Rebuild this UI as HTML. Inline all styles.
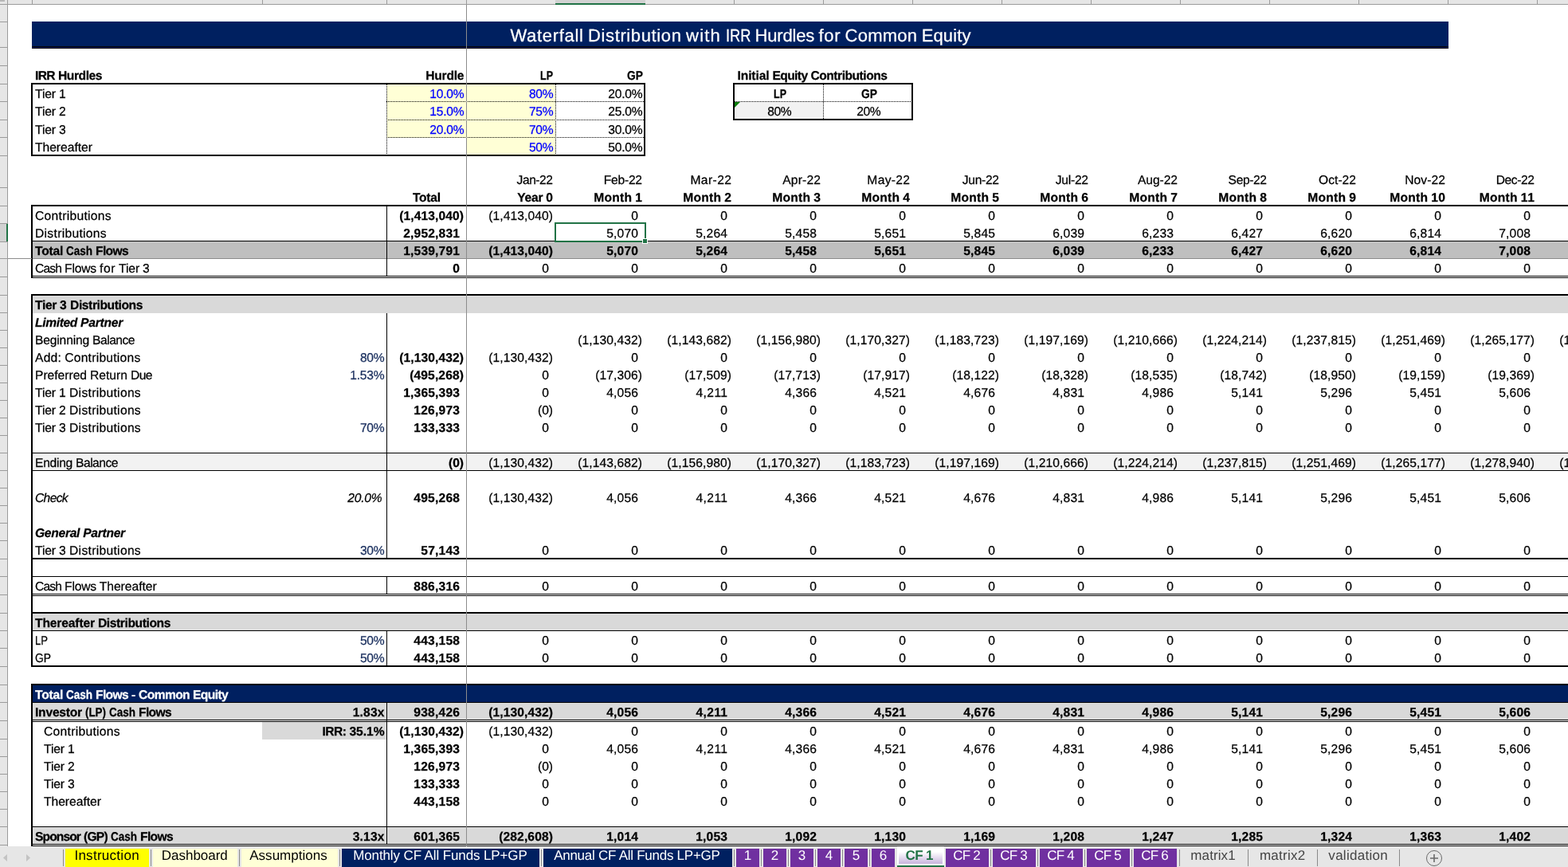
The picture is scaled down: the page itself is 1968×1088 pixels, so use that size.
<!DOCTYPE html>
<html lang="en"><head><meta charset="utf-8"><title>Waterfall Distribution with IRR Hurdles for Common Equity</title>
<style>
html,body{margin:0;padding:0;background:#fff;}
body{width:1968px;height:1088px;position:relative;overflow:hidden;text-rendering:geometricPrecision;font-family:"Liberation Sans",sans-serif;font-size:15.6px;color:#000;}
.b{position:absolute;}
.t{position:absolute;white-space:nowrap;line-height:21px;height:21px;-webkit-text-stroke:0.25px;}
.sx{display:inline-block;transform-origin:0 0;}
.bd{font-weight:bold;}
.it{font-style:italic;}
.bl{color:#0000ff;}
.nv{color:#1a2f5e;}
.wh{color:#fff;}
.tb{position:absolute;top:1062px;height:24px;line-height:24px;white-space:nowrap;font-size:17px;}
</style></head>
<body>
<div class="b" style="left:40px;top:27px;width:1778px;height:34px;background:#002060;"></div>
<div class="b" style="left:486px;top:106px;width:211px;height:67px;background:#ffffd6;"></div>
<div class="b" style="left:586px;top:173px;width:111px;height:21px;background:#ffffd6;"></div>
<div class="b" style="left:922px;top:128px;width:111px;height:21px;background:#f2f2f2;"></div>
<div class="b" style="left:41px;top:303px;width:1927px;height:21px;background:#bfbfbf;"></div>
<div class="b" style="left:41px;top:371px;width:1927px;height:22px;background:#d9d9d9;"></div>
<div class="b" style="left:41px;top:569px;width:1927px;height:21px;background:#f2f2f2;"></div>
<div class="b" style="left:41px;top:770px;width:1927px;height:21px;background:#d9d9d9;"></div>
<div class="b" style="left:41px;top:860px;width:1927px;height:21px;background:#002060;"></div>
<div class="b" style="left:41px;top:882px;width:1927px;height:21px;background:#d9d9d9;"></div>
<div class="b" style="left:329px;top:906px;width:156px;height:22px;background:#d9d9d9;"></div>
<div class="b" style="left:41px;top:1038px;width:1927px;height:21px;background:#d9d9d9;"></div>
<div class="b" style="left:40px;top:58px;width:1778px;height:1px;background:#000;"></div>
<div class="b" style="left:40px;top:60px;width:1778px;height:1px;background:#000;"></div>
<div class="b" style="left:39px;top:104px;width:771px;height:2px;background:#000;"></div>
<div class="b" style="left:39px;top:194px;width:771px;height:2px;background:#000;"></div>
<div class="b" style="left:39px;top:104px;width:2px;height:92px;background:#000;"></div>
<div class="b" style="left:808px;top:104px;width:2px;height:92px;background:#000;"></div>
<div class="b" style="left:485px;top:127px;width:324px;height:1px;background:repeating-linear-gradient(90deg,#000 0 1px,transparent 1px 2px)"></div>
<div class="b" style="left:485px;top:150px;width:324px;height:1px;background:repeating-linear-gradient(90deg,#000 0 1px,transparent 1px 2px)"></div>
<div class="b" style="left:485px;top:172px;width:324px;height:1px;background:repeating-linear-gradient(90deg,#000 0 1px,transparent 1px 2px)"></div>
<div class="b" style="left:485px;top:106px;width:1px;height:88px;background:repeating-linear-gradient(180deg,#000 0 1px,transparent 1px 2px)"></div>
<div class="b" style="left:697px;top:106px;width:1px;height:88px;background:repeating-linear-gradient(180deg,#000 0 1px,transparent 1px 2px)"></div>
<div class="b" style="left:920px;top:104px;width:226px;height:2px;background:#000;"></div>
<div class="b" style="left:920px;top:149px;width:226px;height:2px;background:#000;"></div>
<div class="b" style="left:920px;top:104px;width:2px;height:47px;background:#000;"></div>
<div class="b" style="left:1144px;top:104px;width:2px;height:47px;background:#000;"></div>
<div class="b" style="left:922px;top:127px;width:222px;height:1px;background:repeating-linear-gradient(90deg,#000 0 1px,transparent 1px 2px)"></div>
<div class="b" style="left:1033px;top:106px;width:1px;height:43px;background:repeating-linear-gradient(180deg,#000 0 1px,transparent 1px 2px)"></div>
<div class="b" style="left:39px;top:257px;width:1929px;height:2px;background:#000;"></div>
<div class="b" style="left:41px;top:302px;width:1927px;height:1px;background:#000;"></div>
<div class="b" style="left:41px;top:324px;width:1927px;height:1px;background:#8c8c8c;"></div>
<div class="b" style="left:39px;top:346px;width:1929px;height:1px;background:#000;"></div>
<div class="b" style="left:39px;top:348px;width:1929px;height:1px;background:#000;"></div>
<div class="b" style="left:39px;top:257px;width:2px;height:92px;background:#000;"></div>
<div class="b" style="left:485px;top:259px;width:1px;height:87px;background:#000;"></div>
<div class="b" style="left:39px;top:369px;width:1929px;height:2px;background:#000;"></div>
<div class="b" style="left:39px;top:369px;width:2px;height:468px;background:#000;"></div>
<div class="b" style="left:485px;top:393px;width:1px;height:307px;background:#000;"></div>
<div class="b" style="left:41px;top:568px;width:1927px;height:1px;background:#000;"></div>
<div class="b" style="left:41px;top:590px;width:1927px;height:1px;background:#000;"></div>
<div class="b" style="left:41px;top:700px;width:1927px;height:2px;background:#000;"></div>
<div class="b" style="left:41px;top:723px;width:1927px;height:1px;background:#000;"></div>
<div class="b" style="left:41px;top:745px;width:1927px;height:1px;background:#000;"></div>
<div class="b" style="left:41px;top:747px;width:1927px;height:1px;background:#000;"></div>
<div class="b" style="left:485px;top:723px;width:1px;height:23px;background:#000;"></div>
<div class="b" style="left:41px;top:768px;width:1927px;height:2px;background:#000;"></div>
<div class="b" style="left:41px;top:791px;width:1927px;height:1px;background:#000;"></div>
<div class="b" style="left:485px;top:791px;width:1px;height:44px;background:#000;"></div>
<div class="b" style="left:39px;top:835px;width:1929px;height:2px;background:#000;"></div>
<div class="b" style="left:39px;top:858px;width:1929px;height:2px;background:#000;"></div>
<div class="b" style="left:39px;top:858px;width:2px;height:204px;background:#000;"></div>
<div class="b" style="left:41px;top:881px;width:1927px;height:1px;background:#000;"></div>
<div class="b" style="left:41px;top:903px;width:1927px;height:1px;background:#000;"></div>
<div class="b" style="left:41px;top:905px;width:1927px;height:1px;background:#000;"></div>
<div class="b" style="left:485px;top:882px;width:1px;height:178px;background:#000;"></div>
<div class="b" style="left:41px;top:1037px;width:1927px;height:1px;background:#000;"></div>
<div class="b" style="left:39px;top:1059px;width:1929px;height:1px;background:#000;"></div>
<div class="b" style="left:39px;top:1061px;width:1929px;height:1px;background:#000;"></div>
<div class="t wh" style="top:30px;left:640.5px;font-size:22px;line-height:29px;height:29px;word-spacing:-0.61px;"><span style="letter-spacing:0.67px">Waterfall</span> <span style="letter-spacing:0.62px">Distribution</span> <span style="letter-spacing:1.22px">with</span> <span class="sx" style="transform:scaleX(0.831);margin-right:-6.4px">IRR</span> <span style="letter-spacing:-0.19px">Hurdles</span> <span style="letter-spacing:0.61px">for</span> <span style="letter-spacing:0.21px">Common</span> <span style="letter-spacing:0.14px">Equity</span></div>
<div class="t bd" style="top:85px;left:44px;word-spacing:-0.33px;"><span style="letter-spacing:-0.62px">IRR</span> <span style="letter-spacing:-0.44px">Hurdles</span></div>
<div class="t bd" style="top:85px;right:1385.73px;letter-spacing:-0.23px;">Hurdle</div>
<div class="t bd" style="top:85px;right:1273.5px;"><span class="sx" style="transform:scaleX(0.803);margin-right:-3.93px">LP</span></div>
<div class="t bd" style="top:85px;right:1161.5px;"><span class="sx" style="transform:scaleX(0.887);margin-right:-2.55px">GP</span></div>
<div class="t bd" style="top:85px;left:925.5px;word-spacing:-0.33px;"><span style="letter-spacing:-0.11px">Initial</span> <span style="letter-spacing:-0.61px">Equity</span> <span style="letter-spacing:-0.48px">Contributions</span></div>
<div class="t" style="top:108px;left:44px;word-spacing:-0.33px;"><span style="letter-spacing:-0.07px">Tier</span> <span style="letter-spacing:0.32px">1</span></div>
<div class="t bl" style="top:108px;right:1385.75px;letter-spacing:-0.25px;">10.0%</div>
<div class="t bl" style="top:108px;right:1273.91px;letter-spacing:-0.41px;">80%</div>
<div class="t" style="top:108px;right:1161.75px;letter-spacing:-0.25px;">20.0%</div>
<div class="t" style="top:130px;left:44px;word-spacing:-0.33px;"><span style="letter-spacing:-0.07px">Tier</span> <span style="letter-spacing:0.32px">2</span></div>
<div class="t bl" style="top:130px;right:1385.75px;letter-spacing:-0.25px;">15.0%</div>
<div class="t bl" style="top:130px;right:1273.91px;letter-spacing:-0.41px;">75%</div>
<div class="t" style="top:130px;right:1161.75px;letter-spacing:-0.25px;">25.0%</div>
<div class="t" style="top:153px;left:44px;word-spacing:-0.33px;"><span style="letter-spacing:-0.07px">Tier</span> <span style="letter-spacing:0.32px">3</span></div>
<div class="t bl" style="top:153px;right:1385.75px;letter-spacing:-0.25px;">20.0%</div>
<div class="t bl" style="top:153px;right:1273.91px;letter-spacing:-0.41px;">70%</div>
<div class="t" style="top:153px;right:1161.75px;letter-spacing:-0.25px;">30.0%</div>
<div class="t" style="top:175px;left:44px;">Thereafter</div>
<div class="t bl" style="top:175px;right:1273.91px;letter-spacing:-0.41px;">50%</div>
<div class="t" style="top:175px;right:1161.75px;letter-spacing:-0.25px;">50.0%</div>
<div class="t bd" style="top:108px;left:970.5px;"><span class="sx" style="transform:scaleX(0.803);margin-right:-3.93px">LP</span></div>
<div class="t bd" style="top:108px;left:1080.5px;"><span class="sx" style="transform:scaleX(0.887);margin-right:-2.55px">GP</span></div>
<div class="t" style="top:130px;left:963.3px;letter-spacing:-0.41px;">80%</div>
<div class="t" style="top:130px;left:1075.3px;letter-spacing:-0.41px;">20%</div>
<div class="t" style="top:216px;right:1274.45px;letter-spacing:-0.45px;">Jan-22</div>
<div class="t bd" style="top:238px;right:1273.68px;word-spacing:-0.33px;"><span style="letter-spacing:-0.24px">Year</span> <span style="letter-spacing:0.32px">0</span></div>
<div class="t" style="top:216px;right:1162.24px;letter-spacing:-0.24px;">Feb-22</div>
<div class="t bd" style="top:238px;right:1161.68px;word-spacing:-0.33px;"><span style="letter-spacing:0.24px">Month</span> <span style="letter-spacing:0.32px">1</span></div>
<div class="t" style="top:216px;right:1049.57px;letter-spacing:0.43px;">Mar-22</div>
<div class="t bd" style="top:238px;right:1049.68px;word-spacing:-0.33px;"><span style="letter-spacing:0.24px">Month</span> <span style="letter-spacing:0.32px">2</span></div>
<div class="t" style="top:216px;right:937.8px;letter-spacing:0.2px;">Apr-22</div>
<div class="t bd" style="top:238px;right:937.68px;word-spacing:-0.33px;"><span style="letter-spacing:0.24px">Month</span> <span style="letter-spacing:0.32px">3</span></div>
<div class="t" style="top:216px;right:825.67px;letter-spacing:0.33px;">May-22</div>
<div class="t bd" style="top:238px;right:825.68px;word-spacing:-0.33px;"><span style="letter-spacing:0.24px">Month</span> <span style="letter-spacing:0.32px">4</span></div>
<div class="t" style="top:216px;right:714.28px;letter-spacing:-0.28px;">Jun-22</div>
<div class="t bd" style="top:238px;right:713.68px;word-spacing:-0.33px;"><span style="letter-spacing:0.24px">Month</span> <span style="letter-spacing:0.32px">5</span></div>
<div class="t" style="top:216px;right:602.25px;letter-spacing:-0.25px;">Jul-22</div>
<div class="t bd" style="top:238px;right:601.68px;word-spacing:-0.33px;"><span style="letter-spacing:0.24px">Month</span> <span style="letter-spacing:0.32px">6</span></div>
<div class="t" style="top:216px;right:490.05px;letter-spacing:-0.05px;">Aug-22</div>
<div class="t bd" style="top:238px;right:489.68px;word-spacing:-0.33px;"><span style="letter-spacing:0.24px">Month</span> <span style="letter-spacing:0.32px">7</span></div>
<div class="t" style="top:216px;right:378.38px;letter-spacing:-0.38px;">Sep-22</div>
<div class="t bd" style="top:238px;right:377.68px;word-spacing:-0.33px;"><span style="letter-spacing:0.24px">Month</span> <span style="letter-spacing:0.32px">8</span></div>
<div class="t" style="top:216px;right:265.97px;letter-spacing:0.03px;">Oct-22</div>
<div class="t bd" style="top:238px;right:265.68px;word-spacing:-0.33px;"><span style="letter-spacing:0.24px">Month</span> <span style="letter-spacing:0.32px">9</span></div>
<div class="t" style="top:216px;right:153.88px;letter-spacing:0.12px;">Nov-22</div>
<div class="t bd" style="top:238px;right:153.68px;word-spacing:-0.33px;"><span style="letter-spacing:0.24px">Month</span> <span style="letter-spacing:0.32px">10</span></div>
<div class="t" style="top:216px;right:42.38px;letter-spacing:-0.38px;">Dec-22</div>
<div class="t bd" style="top:238px;right:41.25px;word-spacing:-0.33px;"><span style="letter-spacing:0.24px">Month</span> <span style="letter-spacing:0.75px">11</span></div>
<div class="t bd" style="top:238px;left:517.89px;letter-spacing:-0.22px;">Total</div>
<div class="t" style="top:261px;left:44px;letter-spacing:0.31px;">Contributions</div>
<div class="t bd" style="top:261px;right:1385.89px;letter-spacing:0.11px;">(1,413,040)</div>
<div class="t" style="top:261px;right:1273.89px;letter-spacing:0.11px;">(1,413,040)</div>
<div class="t" style="top:261px;right:1166.68px;letter-spacing:0.32px;">0</div>
<div class="t" style="top:261px;right:1054.68px;letter-spacing:0.32px;">0</div>
<div class="t" style="top:261px;right:942.68px;letter-spacing:0.32px;">0</div>
<div class="t" style="top:261px;right:830.68px;letter-spacing:0.32px;">0</div>
<div class="t" style="top:261px;right:718.68px;letter-spacing:0.32px;">0</div>
<div class="t" style="top:261px;right:606.68px;letter-spacing:0.32px;">0</div>
<div class="t" style="top:261px;right:494.68px;letter-spacing:0.32px;">0</div>
<div class="t" style="top:261px;right:382.68px;letter-spacing:0.32px;">0</div>
<div class="t" style="top:261px;right:270.68px;letter-spacing:0.32px;">0</div>
<div class="t" style="top:261px;right:158.68px;letter-spacing:0.32px;">0</div>
<div class="t" style="top:261px;right:46.68px;letter-spacing:0.32px;">0</div>
<div class="t" style="top:283px;left:44px;letter-spacing:0.32px;">Distributions</div>
<div class="t bd" style="top:283px;right:1390.82px;letter-spacing:0.18px;">2,952,831</div>
<div class="t" style="top:283px;right:1166.81px;letter-spacing:0.19px;">5,070</div>
<div class="t" style="top:283px;right:1054.81px;letter-spacing:0.19px;">5,264</div>
<div class="t" style="top:283px;right:942.81px;letter-spacing:0.19px;">5,458</div>
<div class="t" style="top:283px;right:830.81px;letter-spacing:0.19px;">5,651</div>
<div class="t" style="top:283px;right:718.81px;letter-spacing:0.19px;">5,845</div>
<div class="t" style="top:283px;right:606.81px;letter-spacing:0.19px;">6,039</div>
<div class="t" style="top:283px;right:494.81px;letter-spacing:0.19px;">6,233</div>
<div class="t" style="top:283px;right:382.81px;letter-spacing:0.19px;">6,427</div>
<div class="t" style="top:283px;right:270.81px;letter-spacing:0.19px;">6,620</div>
<div class="t" style="top:283px;right:158.81px;letter-spacing:0.19px;">6,814</div>
<div class="t" style="top:283px;right:46.81px;letter-spacing:0.19px;">7,008</div>
<div class="t bd" style="top:305px;left:44px;word-spacing:-0.33px;"><span style="letter-spacing:-0.22px">Total</span> <span class="sx" style="transform:scaleX(0.865);margin-right:-5.15px">Cash</span> <span style="letter-spacing:-0.64px">Flows</span></div>
<div class="t bd" style="top:305px;right:1390.82px;letter-spacing:0.18px;">1,539,791</div>
<div class="t bd" style="top:305px;right:1273.89px;letter-spacing:0.11px;">(1,413,040)</div>
<div class="t bd" style="top:305px;right:1166.81px;letter-spacing:0.19px;">5,070</div>
<div class="t bd" style="top:305px;right:1054.81px;letter-spacing:0.19px;">5,264</div>
<div class="t bd" style="top:305px;right:942.81px;letter-spacing:0.19px;">5,458</div>
<div class="t bd" style="top:305px;right:830.81px;letter-spacing:0.19px;">5,651</div>
<div class="t bd" style="top:305px;right:718.81px;letter-spacing:0.19px;">5,845</div>
<div class="t bd" style="top:305px;right:606.81px;letter-spacing:0.19px;">6,039</div>
<div class="t bd" style="top:305px;right:494.81px;letter-spacing:0.19px;">6,233</div>
<div class="t bd" style="top:305px;right:382.81px;letter-spacing:0.19px;">6,427</div>
<div class="t bd" style="top:305px;right:270.81px;letter-spacing:0.19px;">6,620</div>
<div class="t bd" style="top:305px;right:158.81px;letter-spacing:0.19px;">6,814</div>
<div class="t bd" style="top:305px;right:46.81px;letter-spacing:0.19px;">7,008</div>
<div class="t" style="top:327px;left:44px;word-spacing:-0.33px;"><span style="letter-spacing:-0.85px">Cash</span> <span style="letter-spacing:-0.15px">Flows</span> <span style="letter-spacing:0.6px">for</span> <span style="letter-spacing:-0.07px">Tier</span> <span style="letter-spacing:0.32px">3</span></div>
<div class="t bd" style="top:327px;right:1390.68px;letter-spacing:0.32px;">0</div>
<div class="t" style="top:327px;right:1278.68px;letter-spacing:0.32px;">0</div>
<div class="t" style="top:327px;right:1166.68px;letter-spacing:0.32px;">0</div>
<div class="t" style="top:327px;right:1054.68px;letter-spacing:0.32px;">0</div>
<div class="t" style="top:327px;right:942.68px;letter-spacing:0.32px;">0</div>
<div class="t" style="top:327px;right:830.68px;letter-spacing:0.32px;">0</div>
<div class="t" style="top:327px;right:718.68px;letter-spacing:0.32px;">0</div>
<div class="t" style="top:327px;right:606.68px;letter-spacing:0.32px;">0</div>
<div class="t" style="top:327px;right:494.68px;letter-spacing:0.32px;">0</div>
<div class="t" style="top:327px;right:382.68px;letter-spacing:0.32px;">0</div>
<div class="t" style="top:327px;right:270.68px;letter-spacing:0.32px;">0</div>
<div class="t" style="top:327px;right:158.68px;letter-spacing:0.32px;">0</div>
<div class="t" style="top:327px;right:46.68px;letter-spacing:0.32px;">0</div>
<div class="t bd" style="top:373px;left:44px;word-spacing:-0.33px;"><span style="letter-spacing:-0.33px">Tier</span> <span style="letter-spacing:0.32px">3</span> <span style="letter-spacing:-0.4px">Distributions</span></div>
<div class="t bd it" style="top:395px;left:44px;word-spacing:-0.33px;"><span style="letter-spacing:-0.35px">Limited</span> <span style="letter-spacing:-0.23px">Partner</span></div>
<div class="t" style="top:417px;left:44px;word-spacing:-0.33px;"><span style="letter-spacing:-0.15px">Beginning</span> <span style="letter-spacing:-0.48px">Balance</span></div>
<div class="t" style="top:417px;right:1161.89px;letter-spacing:0.11px;">(1,130,432)</div>
<div class="t" style="top:417px;right:1049.89px;letter-spacing:0.11px;">(1,143,682)</div>
<div class="t" style="top:417px;right:937.89px;letter-spacing:0.11px;">(1,156,980)</div>
<div class="t" style="top:417px;right:825.89px;letter-spacing:0.11px;">(1,170,327)</div>
<div class="t" style="top:417px;right:713.89px;letter-spacing:0.11px;">(1,183,723)</div>
<div class="t" style="top:417px;right:601.89px;letter-spacing:0.11px;">(1,197,169)</div>
<div class="t" style="top:417px;right:489.89px;letter-spacing:0.11px;">(1,210,666)</div>
<div class="t" style="top:417px;right:377.89px;letter-spacing:0.11px;">(1,224,214)</div>
<div class="t" style="top:417px;right:265.89px;letter-spacing:0.11px;">(1,237,815)</div>
<div class="t" style="top:417px;right:153.89px;letter-spacing:0.11px;">(1,251,469)</div>
<div class="t" style="top:417px;right:41.89px;letter-spacing:0.11px;">(1,265,177)</div>
<div class="t" style="top:417px;right:-70.11px;letter-spacing:0.11px;">(1,278,940)</div>
<div class="t" style="top:439px;left:44px;letter-spacing:0.27px;word-spacing:-0.6px;">Add: Contributions</div>
<div class="t nv" style="top:439px;right:1485.91px;letter-spacing:-0.41px;">80%</div>
<div class="t bd" style="top:439px;right:1385.89px;letter-spacing:0.11px;">(1,130,432)</div>
<div class="t" style="top:439px;right:1273.89px;letter-spacing:0.11px;">(1,130,432)</div>
<div class="t" style="top:439px;right:1166.68px;letter-spacing:0.32px;">0</div>
<div class="t" style="top:439px;right:1054.68px;letter-spacing:0.32px;">0</div>
<div class="t" style="top:439px;right:942.68px;letter-spacing:0.32px;">0</div>
<div class="t" style="top:439px;right:830.68px;letter-spacing:0.32px;">0</div>
<div class="t" style="top:439px;right:718.68px;letter-spacing:0.32px;">0</div>
<div class="t" style="top:439px;right:606.68px;letter-spacing:0.32px;">0</div>
<div class="t" style="top:439px;right:494.68px;letter-spacing:0.32px;">0</div>
<div class="t" style="top:439px;right:382.68px;letter-spacing:0.32px;">0</div>
<div class="t" style="top:439px;right:270.68px;letter-spacing:0.32px;">0</div>
<div class="t" style="top:439px;right:158.68px;letter-spacing:0.32px;">0</div>
<div class="t" style="top:439px;right:46.68px;letter-spacing:0.32px;">0</div>
<div class="t" style="top:461px;left:44px;word-spacing:-0.33px;">Preferred <span style="letter-spacing:0.03px">Return</span> <span style="letter-spacing:-0.54px">Due</span></div>
<div class="t nv" style="top:461px;right:1485.75px;letter-spacing:-0.25px;">1.53%</div>
<div class="t bd" style="top:461px;right:1385.86px;letter-spacing:0.14px;">(495,268)</div>
<div class="t" style="top:461px;right:1278.68px;letter-spacing:0.32px;">0</div>
<div class="t" style="top:461px;right:1161.89px;letter-spacing:0.11px;">(17,306)</div>
<div class="t" style="top:461px;right:1049.89px;letter-spacing:0.11px;">(17,509)</div>
<div class="t" style="top:461px;right:937.89px;letter-spacing:0.11px;">(17,713)</div>
<div class="t" style="top:461px;right:825.89px;letter-spacing:0.11px;">(17,917)</div>
<div class="t" style="top:461px;right:713.89px;letter-spacing:0.11px;">(18,122)</div>
<div class="t" style="top:461px;right:601.89px;letter-spacing:0.11px;">(18,328)</div>
<div class="t" style="top:461px;right:489.89px;letter-spacing:0.11px;">(18,535)</div>
<div class="t" style="top:461px;right:377.89px;letter-spacing:0.11px;">(18,742)</div>
<div class="t" style="top:461px;right:265.89px;letter-spacing:0.11px;">(18,950)</div>
<div class="t" style="top:461px;right:153.89px;letter-spacing:0.11px;">(19,159)</div>
<div class="t" style="top:461px;right:41.89px;letter-spacing:0.11px;">(19,369)</div>
<div class="t" style="top:483px;left:44px;word-spacing:-0.33px;"><span style="letter-spacing:-0.07px">Tier</span> <span style="letter-spacing:0.32px">1</span> <span style="letter-spacing:0.32px">Distributions</span></div>
<div class="t bd" style="top:483px;right:1390.82px;letter-spacing:0.18px;">1,365,393</div>
<div class="t" style="top:483px;right:1278.68px;letter-spacing:0.32px;">0</div>
<div class="t" style="top:483px;right:1166.81px;letter-spacing:0.19px;">4,056</div>
<div class="t" style="top:483px;right:1054.58px;letter-spacing:0.42px;">4,211</div>
<div class="t" style="top:483px;right:942.81px;letter-spacing:0.19px;">4,366</div>
<div class="t" style="top:483px;right:830.81px;letter-spacing:0.19px;">4,521</div>
<div class="t" style="top:483px;right:718.81px;letter-spacing:0.19px;">4,676</div>
<div class="t" style="top:483px;right:606.81px;letter-spacing:0.19px;">4,831</div>
<div class="t" style="top:483px;right:494.81px;letter-spacing:0.19px;">4,986</div>
<div class="t" style="top:483px;right:382.81px;letter-spacing:0.19px;">5,141</div>
<div class="t" style="top:483px;right:270.81px;letter-spacing:0.19px;">5,296</div>
<div class="t" style="top:483px;right:158.81px;letter-spacing:0.19px;">5,451</div>
<div class="t" style="top:483px;right:46.81px;letter-spacing:0.19px;">5,606</div>
<div class="t" style="top:505px;left:44px;word-spacing:-0.33px;"><span style="letter-spacing:-0.07px">Tier</span> <span style="letter-spacing:0.32px">2</span> <span style="letter-spacing:0.32px">Distributions</span></div>
<div class="t bd" style="top:505px;right:1390.77px;letter-spacing:0.23px;">126,973</div>
<div class="t" style="top:505px;right:1274.02px;letter-spacing:-0.02px;">(0)</div>
<div class="t" style="top:505px;right:1166.68px;letter-spacing:0.32px;">0</div>
<div class="t" style="top:505px;right:1054.68px;letter-spacing:0.32px;">0</div>
<div class="t" style="top:505px;right:942.68px;letter-spacing:0.32px;">0</div>
<div class="t" style="top:505px;right:830.68px;letter-spacing:0.32px;">0</div>
<div class="t" style="top:505px;right:718.68px;letter-spacing:0.32px;">0</div>
<div class="t" style="top:505px;right:606.68px;letter-spacing:0.32px;">0</div>
<div class="t" style="top:505px;right:494.68px;letter-spacing:0.32px;">0</div>
<div class="t" style="top:505px;right:382.68px;letter-spacing:0.32px;">0</div>
<div class="t" style="top:505px;right:270.68px;letter-spacing:0.32px;">0</div>
<div class="t" style="top:505px;right:158.68px;letter-spacing:0.32px;">0</div>
<div class="t" style="top:505px;right:46.68px;letter-spacing:0.32px;">0</div>
<div class="t" style="top:527px;left:44px;word-spacing:-0.33px;"><span style="letter-spacing:-0.07px">Tier</span> <span style="letter-spacing:0.32px">3</span> <span style="letter-spacing:0.32px">Distributions</span></div>
<div class="t nv" style="top:527px;right:1485.91px;letter-spacing:-0.41px;">70%</div>
<div class="t bd" style="top:527px;right:1390.77px;letter-spacing:0.23px;">133,333</div>
<div class="t" style="top:527px;right:1278.68px;letter-spacing:0.32px;">0</div>
<div class="t" style="top:527px;right:1166.68px;letter-spacing:0.32px;">0</div>
<div class="t" style="top:527px;right:1054.68px;letter-spacing:0.32px;">0</div>
<div class="t" style="top:527px;right:942.68px;letter-spacing:0.32px;">0</div>
<div class="t" style="top:527px;right:830.68px;letter-spacing:0.32px;">0</div>
<div class="t" style="top:527px;right:718.68px;letter-spacing:0.32px;">0</div>
<div class="t" style="top:527px;right:606.68px;letter-spacing:0.32px;">0</div>
<div class="t" style="top:527px;right:494.68px;letter-spacing:0.32px;">0</div>
<div class="t" style="top:527px;right:382.68px;letter-spacing:0.32px;">0</div>
<div class="t" style="top:527px;right:270.68px;letter-spacing:0.32px;">0</div>
<div class="t" style="top:527px;right:158.68px;letter-spacing:0.32px;">0</div>
<div class="t" style="top:527px;right:46.68px;letter-spacing:0.32px;">0</div>
<div class="t" style="top:571px;left:44px;word-spacing:-0.33px;"><span style="letter-spacing:-0.26px">Ending</span> <span style="letter-spacing:-0.48px">Balance</span></div>
<div class="t bd" style="top:571px;right:1386.02px;letter-spacing:-0.02px;">(0)</div>
<div class="t" style="top:571px;right:1273.89px;letter-spacing:0.11px;">(1,130,432)</div>
<div class="t" style="top:571px;right:1161.89px;letter-spacing:0.11px;">(1,143,682)</div>
<div class="t" style="top:571px;right:1049.89px;letter-spacing:0.11px;">(1,156,980)</div>
<div class="t" style="top:571px;right:937.89px;letter-spacing:0.11px;">(1,170,327)</div>
<div class="t" style="top:571px;right:825.89px;letter-spacing:0.11px;">(1,183,723)</div>
<div class="t" style="top:571px;right:713.89px;letter-spacing:0.11px;">(1,197,169)</div>
<div class="t" style="top:571px;right:601.89px;letter-spacing:0.11px;">(1,210,666)</div>
<div class="t" style="top:571px;right:489.89px;letter-spacing:0.11px;">(1,224,214)</div>
<div class="t" style="top:571px;right:377.89px;letter-spacing:0.11px;">(1,237,815)</div>
<div class="t" style="top:571px;right:265.89px;letter-spacing:0.11px;">(1,251,469)</div>
<div class="t" style="top:571px;right:153.89px;letter-spacing:0.11px;">(1,265,177)</div>
<div class="t" style="top:571px;right:41.89px;letter-spacing:0.11px;">(1,278,940)</div>
<div class="t" style="top:571px;right:-70.11px;letter-spacing:0.11px;">(1,292,757)</div>
<div class="t it" style="top:615px;left:44px;letter-spacing:-0.64px;">Check</div>
<div class="t it" style="top:615px;right:1488.75px;letter-spacing:-0.25px;">20.0%</div>
<div class="t bd" style="top:615px;right:1390.77px;letter-spacing:0.23px;">495,268</div>
<div class="t" style="top:615px;right:1273.89px;letter-spacing:0.11px;">(1,130,432)</div>
<div class="t" style="top:615px;right:1166.81px;letter-spacing:0.19px;">4,056</div>
<div class="t" style="top:615px;right:1054.58px;letter-spacing:0.42px;">4,211</div>
<div class="t" style="top:615px;right:942.81px;letter-spacing:0.19px;">4,366</div>
<div class="t" style="top:615px;right:830.81px;letter-spacing:0.19px;">4,521</div>
<div class="t" style="top:615px;right:718.81px;letter-spacing:0.19px;">4,676</div>
<div class="t" style="top:615px;right:606.81px;letter-spacing:0.19px;">4,831</div>
<div class="t" style="top:615px;right:494.81px;letter-spacing:0.19px;">4,986</div>
<div class="t" style="top:615px;right:382.81px;letter-spacing:0.19px;">5,141</div>
<div class="t" style="top:615px;right:270.81px;letter-spacing:0.19px;">5,296</div>
<div class="t" style="top:615px;right:158.81px;letter-spacing:0.19px;">5,451</div>
<div class="t" style="top:615px;right:46.81px;letter-spacing:0.19px;">5,606</div>
<div class="t bd it" style="top:659px;left:44px;letter-spacing:-0.27px;word-spacing:-0.06px;">General Partner</div>
<div class="t" style="top:681px;left:44px;word-spacing:-0.33px;"><span style="letter-spacing:-0.07px">Tier</span> <span style="letter-spacing:0.32px">3</span> <span style="letter-spacing:0.32px">Distributions</span></div>
<div class="t nv" style="top:681px;right:1485.91px;letter-spacing:-0.41px;">30%</div>
<div class="t bd" style="top:681px;right:1390.79px;letter-spacing:0.21px;">57,143</div>
<div class="t" style="top:681px;right:1278.68px;letter-spacing:0.32px;">0</div>
<div class="t" style="top:681px;right:1166.68px;letter-spacing:0.32px;">0</div>
<div class="t" style="top:681px;right:1054.68px;letter-spacing:0.32px;">0</div>
<div class="t" style="top:681px;right:942.68px;letter-spacing:0.32px;">0</div>
<div class="t" style="top:681px;right:830.68px;letter-spacing:0.32px;">0</div>
<div class="t" style="top:681px;right:718.68px;letter-spacing:0.32px;">0</div>
<div class="t" style="top:681px;right:606.68px;letter-spacing:0.32px;">0</div>
<div class="t" style="top:681px;right:494.68px;letter-spacing:0.32px;">0</div>
<div class="t" style="top:681px;right:382.68px;letter-spacing:0.32px;">0</div>
<div class="t" style="top:681px;right:270.68px;letter-spacing:0.32px;">0</div>
<div class="t" style="top:681px;right:158.68px;letter-spacing:0.32px;">0</div>
<div class="t" style="top:681px;right:46.68px;letter-spacing:0.32px;">0</div>
<div class="t" style="top:726px;left:44px;word-spacing:-0.33px;"><span style="letter-spacing:-0.85px">Cash</span> <span style="letter-spacing:-0.15px">Flows</span> Thereafter</div>
<div class="t bd" style="top:726px;right:1390.77px;letter-spacing:0.23px;">886,316</div>
<div class="t" style="top:726px;right:1278.68px;letter-spacing:0.32px;">0</div>
<div class="t" style="top:726px;right:1166.68px;letter-spacing:0.32px;">0</div>
<div class="t" style="top:726px;right:1054.68px;letter-spacing:0.32px;">0</div>
<div class="t" style="top:726px;right:942.68px;letter-spacing:0.32px;">0</div>
<div class="t" style="top:726px;right:830.68px;letter-spacing:0.32px;">0</div>
<div class="t" style="top:726px;right:718.68px;letter-spacing:0.32px;">0</div>
<div class="t" style="top:726px;right:606.68px;letter-spacing:0.32px;">0</div>
<div class="t" style="top:726px;right:494.68px;letter-spacing:0.32px;">0</div>
<div class="t" style="top:726px;right:382.68px;letter-spacing:0.32px;">0</div>
<div class="t" style="top:726px;right:270.68px;letter-spacing:0.32px;">0</div>
<div class="t" style="top:726px;right:158.68px;letter-spacing:0.32px;">0</div>
<div class="t" style="top:726px;right:46.68px;letter-spacing:0.32px;">0</div>
<div class="t bd" style="top:772px;left:44px;word-spacing:-0.33px;"><span style="letter-spacing:-0.13px">Thereafter</span> <span style="letter-spacing:-0.4px">Distributions</span></div>
<div class="t" style="top:794px;left:44px;"><span class="sx" style="transform:scaleX(0.839);margin-right:-3.07px">LP</span></div>
<div class="t nv" style="top:794px;right:1485.91px;letter-spacing:-0.41px;">50%</div>
<div class="t bd" style="top:794px;right:1390.77px;letter-spacing:0.23px;">443,158</div>
<div class="t" style="top:794px;right:1278.68px;letter-spacing:0.32px;">0</div>
<div class="t" style="top:794px;right:1166.68px;letter-spacing:0.32px;">0</div>
<div class="t" style="top:794px;right:1054.68px;letter-spacing:0.32px;">0</div>
<div class="t" style="top:794px;right:942.68px;letter-spacing:0.32px;">0</div>
<div class="t" style="top:794px;right:830.68px;letter-spacing:0.32px;">0</div>
<div class="t" style="top:794px;right:718.68px;letter-spacing:0.32px;">0</div>
<div class="t" style="top:794px;right:606.68px;letter-spacing:0.32px;">0</div>
<div class="t" style="top:794px;right:494.68px;letter-spacing:0.32px;">0</div>
<div class="t" style="top:794px;right:382.68px;letter-spacing:0.32px;">0</div>
<div class="t" style="top:794px;right:270.68px;letter-spacing:0.32px;">0</div>
<div class="t" style="top:794px;right:158.68px;letter-spacing:0.32px;">0</div>
<div class="t" style="top:794px;right:46.68px;letter-spacing:0.32px;">0</div>
<div class="t" style="top:816px;left:44px;"><span class="sx" style="transform:scaleX(0.887);margin-right:-2.55px">GP</span></div>
<div class="t nv" style="top:816px;right:1485.91px;letter-spacing:-0.41px;">50%</div>
<div class="t bd" style="top:816px;right:1390.77px;letter-spacing:0.23px;">443,158</div>
<div class="t" style="top:816px;right:1278.68px;letter-spacing:0.32px;">0</div>
<div class="t" style="top:816px;right:1166.68px;letter-spacing:0.32px;">0</div>
<div class="t" style="top:816px;right:1054.68px;letter-spacing:0.32px;">0</div>
<div class="t" style="top:816px;right:942.68px;letter-spacing:0.32px;">0</div>
<div class="t" style="top:816px;right:830.68px;letter-spacing:0.32px;">0</div>
<div class="t" style="top:816px;right:718.68px;letter-spacing:0.32px;">0</div>
<div class="t" style="top:816px;right:606.68px;letter-spacing:0.32px;">0</div>
<div class="t" style="top:816px;right:494.68px;letter-spacing:0.32px;">0</div>
<div class="t" style="top:816px;right:382.68px;letter-spacing:0.32px;">0</div>
<div class="t" style="top:816px;right:270.68px;letter-spacing:0.32px;">0</div>
<div class="t" style="top:816px;right:158.68px;letter-spacing:0.32px;">0</div>
<div class="t" style="top:816px;right:46.68px;letter-spacing:0.32px;">0</div>
<div class="t bd wh" style="top:862px;left:44px;word-spacing:-0.33px;"><span style="letter-spacing:-0.22px">Total</span> <span class="sx" style="transform:scaleX(0.865);margin-right:-5.15px">Cash</span> <span style="letter-spacing:-0.64px">Flows</span> <span style="letter-spacing:-0.2px">-</span> <span style="letter-spacing:-0.6px">Common</span> <span style="letter-spacing:-0.61px">Equity</span></div>
<div class="t bd" style="top:884px;left:44px;word-spacing:-0.33px;"><span style="letter-spacing:-0.21px">Investor</span> <span class="sx" style="transform:scaleX(0.857);margin-right:-4.34px">(LP)</span> <span class="sx" style="transform:scaleX(0.865);margin-right:-5.15px">Cash</span> <span style="letter-spacing:-0.64px">Flows</span></div>
<div class="t bd" style="top:884px;right:1485.31px;letter-spacing:0.19px;">1.83x</div>
<div class="t bd" style="top:884px;right:1390.77px;letter-spacing:0.23px;">938,426</div>
<div class="t bd" style="top:884px;right:1273.89px;letter-spacing:0.11px;">(1,130,432)</div>
<div class="t bd" style="top:884px;right:1166.81px;letter-spacing:0.19px;">4,056</div>
<div class="t bd" style="top:884px;right:1054.64px;letter-spacing:0.36px;">4,211</div>
<div class="t bd" style="top:884px;right:942.81px;letter-spacing:0.19px;">4,366</div>
<div class="t bd" style="top:884px;right:830.81px;letter-spacing:0.19px;">4,521</div>
<div class="t bd" style="top:884px;right:718.81px;letter-spacing:0.19px;">4,676</div>
<div class="t bd" style="top:884px;right:606.81px;letter-spacing:0.19px;">4,831</div>
<div class="t bd" style="top:884px;right:494.81px;letter-spacing:0.19px;">4,986</div>
<div class="t bd" style="top:884px;right:382.81px;letter-spacing:0.19px;">5,141</div>
<div class="t bd" style="top:884px;right:270.81px;letter-spacing:0.19px;">5,296</div>
<div class="t bd" style="top:884px;right:158.81px;letter-spacing:0.19px;">5,451</div>
<div class="t bd" style="top:884px;right:46.81px;letter-spacing:0.19px;">5,606</div>
<div class="t" style="top:908px;left:55px;letter-spacing:0.31px;">Contributions</div>
<div class="t bd" style="top:908px;right:1485.55px;word-spacing:-0.33px;"><span style="letter-spacing:-0.52px">IRR:</span> <span style="letter-spacing:-0.05px">35.1%</span></div>
<div class="t bd" style="top:908px;right:1385.89px;letter-spacing:0.11px;">(1,130,432)</div>
<div class="t" style="top:908px;right:1273.89px;letter-spacing:0.11px;">(1,130,432)</div>
<div class="t" style="top:908px;right:1166.68px;letter-spacing:0.32px;">0</div>
<div class="t" style="top:908px;right:1054.68px;letter-spacing:0.32px;">0</div>
<div class="t" style="top:908px;right:942.68px;letter-spacing:0.32px;">0</div>
<div class="t" style="top:908px;right:830.68px;letter-spacing:0.32px;">0</div>
<div class="t" style="top:908px;right:718.68px;letter-spacing:0.32px;">0</div>
<div class="t" style="top:908px;right:606.68px;letter-spacing:0.32px;">0</div>
<div class="t" style="top:908px;right:494.68px;letter-spacing:0.32px;">0</div>
<div class="t" style="top:908px;right:382.68px;letter-spacing:0.32px;">0</div>
<div class="t" style="top:908px;right:270.68px;letter-spacing:0.32px;">0</div>
<div class="t" style="top:908px;right:158.68px;letter-spacing:0.32px;">0</div>
<div class="t" style="top:908px;right:46.68px;letter-spacing:0.32px;">0</div>
<div class="t" style="top:930px;left:55px;word-spacing:-0.33px;"><span style="letter-spacing:-0.07px">Tier</span> <span style="letter-spacing:0.32px">1</span></div>
<div class="t bd" style="top:930px;right:1390.82px;letter-spacing:0.18px;">1,365,393</div>
<div class="t" style="top:930px;right:1278.68px;letter-spacing:0.32px;">0</div>
<div class="t" style="top:930px;right:1166.81px;letter-spacing:0.19px;">4,056</div>
<div class="t" style="top:930px;right:1054.58px;letter-spacing:0.42px;">4,211</div>
<div class="t" style="top:930px;right:942.81px;letter-spacing:0.19px;">4,366</div>
<div class="t" style="top:930px;right:830.81px;letter-spacing:0.19px;">4,521</div>
<div class="t" style="top:930px;right:718.81px;letter-spacing:0.19px;">4,676</div>
<div class="t" style="top:930px;right:606.81px;letter-spacing:0.19px;">4,831</div>
<div class="t" style="top:930px;right:494.81px;letter-spacing:0.19px;">4,986</div>
<div class="t" style="top:930px;right:382.81px;letter-spacing:0.19px;">5,141</div>
<div class="t" style="top:930px;right:270.81px;letter-spacing:0.19px;">5,296</div>
<div class="t" style="top:930px;right:158.81px;letter-spacing:0.19px;">5,451</div>
<div class="t" style="top:930px;right:46.81px;letter-spacing:0.19px;">5,606</div>
<div class="t" style="top:952px;left:55px;word-spacing:-0.33px;"><span style="letter-spacing:-0.07px">Tier</span> <span style="letter-spacing:0.32px">2</span></div>
<div class="t bd" style="top:952px;right:1390.77px;letter-spacing:0.23px;">126,973</div>
<div class="t" style="top:952px;right:1274.02px;letter-spacing:-0.02px;">(0)</div>
<div class="t" style="top:952px;right:1166.68px;letter-spacing:0.32px;">0</div>
<div class="t" style="top:952px;right:1054.68px;letter-spacing:0.32px;">0</div>
<div class="t" style="top:952px;right:942.68px;letter-spacing:0.32px;">0</div>
<div class="t" style="top:952px;right:830.68px;letter-spacing:0.32px;">0</div>
<div class="t" style="top:952px;right:718.68px;letter-spacing:0.32px;">0</div>
<div class="t" style="top:952px;right:606.68px;letter-spacing:0.32px;">0</div>
<div class="t" style="top:952px;right:494.68px;letter-spacing:0.32px;">0</div>
<div class="t" style="top:952px;right:382.68px;letter-spacing:0.32px;">0</div>
<div class="t" style="top:952px;right:270.68px;letter-spacing:0.32px;">0</div>
<div class="t" style="top:952px;right:158.68px;letter-spacing:0.32px;">0</div>
<div class="t" style="top:952px;right:46.68px;letter-spacing:0.32px;">0</div>
<div class="t" style="top:974px;left:55px;word-spacing:-0.33px;"><span style="letter-spacing:-0.07px">Tier</span> <span style="letter-spacing:0.32px">3</span></div>
<div class="t bd" style="top:974px;right:1390.77px;letter-spacing:0.23px;">133,333</div>
<div class="t" style="top:974px;right:1278.68px;letter-spacing:0.32px;">0</div>
<div class="t" style="top:974px;right:1166.68px;letter-spacing:0.32px;">0</div>
<div class="t" style="top:974px;right:1054.68px;letter-spacing:0.32px;">0</div>
<div class="t" style="top:974px;right:942.68px;letter-spacing:0.32px;">0</div>
<div class="t" style="top:974px;right:830.68px;letter-spacing:0.32px;">0</div>
<div class="t" style="top:974px;right:718.68px;letter-spacing:0.32px;">0</div>
<div class="t" style="top:974px;right:606.68px;letter-spacing:0.32px;">0</div>
<div class="t" style="top:974px;right:494.68px;letter-spacing:0.32px;">0</div>
<div class="t" style="top:974px;right:382.68px;letter-spacing:0.32px;">0</div>
<div class="t" style="top:974px;right:270.68px;letter-spacing:0.32px;">0</div>
<div class="t" style="top:974px;right:158.68px;letter-spacing:0.32px;">0</div>
<div class="t" style="top:974px;right:46.68px;letter-spacing:0.32px;">0</div>
<div class="t" style="top:996px;left:55px;">Thereafter</div>
<div class="t bd" style="top:996px;right:1390.77px;letter-spacing:0.23px;">443,158</div>
<div class="t" style="top:996px;right:1278.68px;letter-spacing:0.32px;">0</div>
<div class="t" style="top:996px;right:1166.68px;letter-spacing:0.32px;">0</div>
<div class="t" style="top:996px;right:1054.68px;letter-spacing:0.32px;">0</div>
<div class="t" style="top:996px;right:942.68px;letter-spacing:0.32px;">0</div>
<div class="t" style="top:996px;right:830.68px;letter-spacing:0.32px;">0</div>
<div class="t" style="top:996px;right:718.68px;letter-spacing:0.32px;">0</div>
<div class="t" style="top:996px;right:606.68px;letter-spacing:0.32px;">0</div>
<div class="t" style="top:996px;right:494.68px;letter-spacing:0.32px;">0</div>
<div class="t" style="top:996px;right:382.68px;letter-spacing:0.32px;">0</div>
<div class="t" style="top:996px;right:270.68px;letter-spacing:0.32px;">0</div>
<div class="t" style="top:996px;right:158.68px;letter-spacing:0.32px;">0</div>
<div class="t" style="top:996px;right:46.68px;letter-spacing:0.32px;">0</div>
<div class="t bd" style="top:1040px;left:44px;word-spacing:-0.33px;"><span style="letter-spacing:-0.9px">Sponsor</span> <span style="letter-spacing:-0.73px">(GP)</span> <span class="sx" style="transform:scaleX(0.865);margin-right:-5.15px">Cash</span> <span style="letter-spacing:-0.64px">Flows</span></div>
<div class="t bd" style="top:1040px;right:1485.31px;letter-spacing:0.19px;">3.13x</div>
<div class="t bd" style="top:1040px;right:1390.77px;letter-spacing:0.23px;">601,365</div>
<div class="t bd" style="top:1040px;right:1273.86px;letter-spacing:0.14px;">(282,608)</div>
<div class="t bd" style="top:1040px;right:1166.81px;letter-spacing:0.19px;">1,014</div>
<div class="t bd" style="top:1040px;right:1054.81px;letter-spacing:0.19px;">1,053</div>
<div class="t bd" style="top:1040px;right:942.81px;letter-spacing:0.19px;">1,092</div>
<div class="t bd" style="top:1040px;right:830.81px;letter-spacing:0.19px;">1,130</div>
<div class="t bd" style="top:1040px;right:718.81px;letter-spacing:0.19px;">1,169</div>
<div class="t bd" style="top:1040px;right:606.81px;letter-spacing:0.19px;">1,208</div>
<div class="t bd" style="top:1040px;right:494.81px;letter-spacing:0.19px;">1,247</div>
<div class="t bd" style="top:1040px;right:382.81px;letter-spacing:0.19px;">1,285</div>
<div class="t bd" style="top:1040px;right:270.81px;letter-spacing:0.19px;">1,324</div>
<div class="t bd" style="top:1040px;right:158.81px;letter-spacing:0.19px;">1,363</div>
<div class="t bd" style="top:1040px;right:46.81px;letter-spacing:0.19px;">1,402</div>
<div class="b" style="left:696px;top:279px;width:111px;height:21px;border:2px solid #217346;background:transparent"></div>
<div class="b" style="left:807px;top:300px;width:5px;height:5px;background:#217346;border:1px solid #fff;box-sizing:content-box;margin:-1px 0 0 -1px;"></div>
<div class="b" style="left:922px;top:128px;width:0;height:0;border-top:7px solid #0b7d0b;border-right:7px solid transparent;"></div>
<div class="b" style="left:585px;top:6px;width:1px;height:1056px;background:#8c8c8c;"></div>
<div class="b" style="left:0px;top:324px;width:40px;height:1px;background:#8c8c8c;"></div>
<div class="b" style="left:0px;top:0px;width:1968px;height:5px;background:#e6e6e6;"></div>
<div class="b" style="left:697px;top:0px;width:113px;height:4px;background:#d2d2d2;"></div>
<div class="b" style="left:697px;top:4px;width:113px;height:2px;background:#217346;"></div>
<div class="b" style="left:0px;top:5px;width:697px;height:1px;background:#9b9b9b;"></div>
<div class="b" style="left:810px;top:5px;width:1158px;height:1px;background:#9b9b9b;"></div>
<div class="b" style="left:40px;top:0px;width:1px;height:5px;background:#9b9b9b;"></div>
<div class="b" style="left:329px;top:0px;width:1px;height:5px;background:#9b9b9b;"></div>
<div class="b" style="left:485px;top:0px;width:1px;height:5px;background:#9b9b9b;"></div>
<div class="b" style="left:585px;top:0px;width:1px;height:5px;background:#9b9b9b;"></div>
<div class="b" style="left:921px;top:0px;width:1px;height:5px;background:#9b9b9b;"></div>
<div class="b" style="left:1033px;top:0px;width:1px;height:5px;background:#9b9b9b;"></div>
<div class="b" style="left:1145px;top:0px;width:1px;height:5px;background:#9b9b9b;"></div>
<div class="b" style="left:1257px;top:0px;width:1px;height:5px;background:#9b9b9b;"></div>
<div class="b" style="left:1369px;top:0px;width:1px;height:5px;background:#9b9b9b;"></div>
<div class="b" style="left:1481px;top:0px;width:1px;height:5px;background:#9b9b9b;"></div>
<div class="b" style="left:1593px;top:0px;width:1px;height:5px;background:#9b9b9b;"></div>
<div class="b" style="left:1705px;top:0px;width:1px;height:5px;background:#9b9b9b;"></div>
<div class="b" style="left:1817px;top:0px;width:1px;height:5px;background:#9b9b9b;"></div>
<div class="b" style="left:1929px;top:0px;width:1px;height:5px;background:#9b9b9b;"></div>
<div class="b" style="left:0px;top:6px;width:9px;height:1056px;background:#e6e6e6;"></div>
<div class="b" style="left:9px;top:0px;width:1px;height:1062px;background:#9b9b9b;"></div>
<div class="b" style="left:0px;top:27px;width:9px;height:1px;background:#9b9b9b;"></div>
<div class="b" style="left:0px;top:59px;width:9px;height:1px;background:#9b9b9b;"></div>
<div class="b" style="left:0px;top:82px;width:9px;height:1px;background:#9b9b9b;"></div>
<div class="b" style="left:0px;top:105px;width:9px;height:1px;background:#9b9b9b;"></div>
<div class="b" style="left:0px;top:127px;width:9px;height:1px;background:#9b9b9b;"></div>
<div class="b" style="left:0px;top:150px;width:9px;height:1px;background:#9b9b9b;"></div>
<div class="b" style="left:0px;top:172px;width:9px;height:1px;background:#9b9b9b;"></div>
<div class="b" style="left:0px;top:195px;width:9px;height:1px;background:#9b9b9b;"></div>
<div class="b" style="left:0px;top:235px;width:9px;height:1px;background:#9b9b9b;"></div>
<div class="b" style="left:0px;top:258px;width:9px;height:1px;background:#9b9b9b;"></div>
<div class="b" style="left:0px;top:280px;width:9px;height:1px;background:#9b9b9b;"></div>
<div class="b" style="left:0px;top:303px;width:9px;height:1px;background:#9b9b9b;"></div>
<div class="b" style="left:0px;top:324px;width:9px;height:1px;background:#9b9b9b;"></div>
<div class="b" style="left:0px;top:347px;width:9px;height:1px;background:#9b9b9b;"></div>
<div class="b" style="left:0px;top:370px;width:9px;height:1px;background:#9b9b9b;"></div>
<div class="b" style="left:0px;top:392px;width:9px;height:1px;background:#9b9b9b;"></div>
<div class="b" style="left:0px;top:414px;width:9px;height:1px;background:#9b9b9b;"></div>
<div class="b" style="left:0px;top:436px;width:9px;height:1px;background:#9b9b9b;"></div>
<div class="b" style="left:0px;top:458px;width:9px;height:1px;background:#9b9b9b;"></div>
<div class="b" style="left:0px;top:480px;width:9px;height:1px;background:#9b9b9b;"></div>
<div class="b" style="left:0px;top:502px;width:9px;height:1px;background:#9b9b9b;"></div>
<div class="b" style="left:0px;top:524px;width:9px;height:1px;background:#9b9b9b;"></div>
<div class="b" style="left:0px;top:546px;width:9px;height:1px;background:#9b9b9b;"></div>
<div class="b" style="left:0px;top:568px;width:9px;height:1px;background:#9b9b9b;"></div>
<div class="b" style="left:0px;top:590px;width:9px;height:1px;background:#9b9b9b;"></div>
<div class="b" style="left:0px;top:612px;width:9px;height:1px;background:#9b9b9b;"></div>
<div class="b" style="left:0px;top:634px;width:9px;height:1px;background:#9b9b9b;"></div>
<div class="b" style="left:0px;top:656px;width:9px;height:1px;background:#9b9b9b;"></div>
<div class="b" style="left:0px;top:678px;width:9px;height:1px;background:#9b9b9b;"></div>
<div class="b" style="left:0px;top:701px;width:9px;height:1px;background:#9b9b9b;"></div>
<div class="b" style="left:0px;top:723px;width:9px;height:1px;background:#9b9b9b;"></div>
<div class="b" style="left:0px;top:746px;width:9px;height:1px;background:#9b9b9b;"></div>
<div class="b" style="left:0px;top:769px;width:9px;height:1px;background:#9b9b9b;"></div>
<div class="b" style="left:0px;top:791px;width:9px;height:1px;background:#9b9b9b;"></div>
<div class="b" style="left:0px;top:813px;width:9px;height:1px;background:#9b9b9b;"></div>
<div class="b" style="left:0px;top:836px;width:9px;height:1px;background:#9b9b9b;"></div>
<div class="b" style="left:0px;top:859px;width:9px;height:1px;background:#9b9b9b;"></div>
<div class="b" style="left:0px;top:881px;width:9px;height:1px;background:#9b9b9b;"></div>
<div class="b" style="left:0px;top:904px;width:9px;height:1px;background:#9b9b9b;"></div>
<div class="b" style="left:0px;top:927px;width:9px;height:1px;background:#9b9b9b;"></div>
<div class="b" style="left:0px;top:949px;width:9px;height:1px;background:#9b9b9b;"></div>
<div class="b" style="left:0px;top:971px;width:9px;height:1px;background:#9b9b9b;"></div>
<div class="b" style="left:0px;top:993px;width:9px;height:1px;background:#9b9b9b;"></div>
<div class="b" style="left:0px;top:1015px;width:9px;height:1px;background:#9b9b9b;"></div>
<div class="b" style="left:0px;top:1037px;width:9px;height:1px;background:#9b9b9b;"></div>
<div class="b" style="left:0px;top:1060px;width:9px;height:1px;background:#9b9b9b;"></div>
<div class="b" style="left:0px;top:281px;width:9px;height:22px;background:#d2d2d2;"></div>
<div class="b" style="left:8px;top:281px;width:2px;height:22px;background:#217346;"></div>
<div class="b" style="left:0px;top:0px;width:6px;height:2px;background:#b7b7b7;"></div>
<div class="b" style="left:0px;top:1062px;width:1968px;height:26px;background:#e6e6e6;"></div>
<div class="b" style="left:79px;top:1066px;width:1px;height:21px;background:#8a8a8a;"></div>
<div class="b" style="left:82px;top:1065px;width:105px;height:23px;background:#ffff00;"></div>
<div class="tb " style="left:93.39px;color:#000;letter-spacing:0.28px">Instruction</div>
<div class="b" style="left:189px;top:1066px;width:1px;height:21px;background:#8a8a8a;"></div>
<div class="b" style="left:192px;top:1065px;width:106px;height:23px;background:#ffffd6;"></div>
<div class="tb " style="left:202.8px;color:#000;letter-spacing:-0.02px">Dashboard</div>
<div class="b" style="left:300px;top:1066px;width:1px;height:21px;background:#8a8a8a;"></div>
<div class="b" style="left:303px;top:1065px;width:121px;height:23px;background:#ffffd6;"></div>
<div class="tb " style="left:313.24px;color:#000;letter-spacing:0.02px">Assumptions</div>
<div class="b" style="left:426px;top:1066px;width:1px;height:21px;background:#8a8a8a;"></div>
<div class="b" style="left:429px;top:1065px;width:248px;height:23px;background:#002060;"></div>
<div class="tb " style="left:443.22px;color:#fff;letter-spacing:-0.12px">Monthly CF All Funds LP+GP</div>
<div class="b" style="left:679px;top:1066px;width:1px;height:21px;background:#8a8a8a;"></div>
<div class="b" style="left:682px;top:1065px;width:237px;height:23px;background:#002060;"></div>
<div class="tb " style="left:695.13px;color:#fff;letter-spacing:-0.26px">Annual CF All Funds LP+GP</div>
<div class="b" style="left:921px;top:1066px;width:1px;height:21px;background:#8a8a8a;"></div>
<div class="b" style="left:924px;top:1065px;width:29px;height:23px;background:#7030a0;"></div>
<div class="tb " style="left:933.77px;color:#fff;letter-spacing:0.05px">1</div>
<div class="b" style="left:955px;top:1066px;width:1px;height:21px;background:#8a8a8a;"></div>
<div class="b" style="left:958px;top:1065px;width:29px;height:23px;background:#7030a0;"></div>
<div class="tb " style="left:967.77px;color:#fff;letter-spacing:0.05px">2</div>
<div class="b" style="left:989px;top:1066px;width:1px;height:21px;background:#8a8a8a;"></div>
<div class="b" style="left:992px;top:1065px;width:29px;height:23px;background:#7030a0;"></div>
<div class="tb " style="left:1001.77px;color:#fff;letter-spacing:0.05px">3</div>
<div class="b" style="left:1023px;top:1066px;width:1px;height:21px;background:#8a8a8a;"></div>
<div class="b" style="left:1026px;top:1065px;width:29px;height:23px;background:#7030a0;"></div>
<div class="tb " style="left:1035.77px;color:#fff;letter-spacing:0.05px">4</div>
<div class="b" style="left:1057px;top:1066px;width:1px;height:21px;background:#8a8a8a;"></div>
<div class="b" style="left:1060px;top:1065px;width:29px;height:23px;background:#7030a0;"></div>
<div class="tb " style="left:1069.77px;color:#fff;letter-spacing:0.05px">5</div>
<div class="b" style="left:1091px;top:1066px;width:1px;height:21px;background:#8a8a8a;"></div>
<div class="b" style="left:1094px;top:1065px;width:29px;height:23px;background:#7030a0;"></div>
<div class="tb " style="left:1103.77px;color:#fff;letter-spacing:0.05px">6</div>
<div class="b" style="left:1126px;top:1062px;width:59px;height:24px;background:#fff;"></div>
<div class="b" style="left:1128px;top:1064px;width:55px;height:20px;background:linear-gradient(#fff 25%,#c9b4dd)"></div>
<div class="b" style="left:1126px;top:1086px;width:59px;height:2px;background:#217346;"></div>
<div class="tb bd" style="left:1136.45px;color:#217346;letter-spacing:-0.58px">CF 1</div>
<div class="b" style="left:1187px;top:1065px;width:54px;height:23px;background:#7030a0;"></div>
<div class="tb " style="left:1196.33px;color:#fff;letter-spacing:-0.83px">CF 2</div>
<div class="b" style="left:1243px;top:1066px;width:1px;height:21px;background:#8a8a8a;"></div>
<div class="b" style="left:1246px;top:1065px;width:54px;height:23px;background:#7030a0;"></div>
<div class="tb " style="left:1255.33px;color:#fff;letter-spacing:-0.83px">CF 3</div>
<div class="b" style="left:1302px;top:1066px;width:1px;height:21px;background:#8a8a8a;"></div>
<div class="b" style="left:1305px;top:1065px;width:54px;height:23px;background:#7030a0;"></div>
<div class="tb " style="left:1314.33px;color:#fff;letter-spacing:-0.83px">CF 4</div>
<div class="b" style="left:1361px;top:1066px;width:1px;height:21px;background:#8a8a8a;"></div>
<div class="b" style="left:1364px;top:1065px;width:54px;height:23px;background:#7030a0;"></div>
<div class="tb " style="left:1373.33px;color:#fff;letter-spacing:-0.83px">CF 5</div>
<div class="b" style="left:1420px;top:1066px;width:1px;height:21px;background:#8a8a8a;"></div>
<div class="b" style="left:1423px;top:1065px;width:54px;height:23px;background:#7030a0;"></div>
<div class="tb " style="left:1432.33px;color:#fff;letter-spacing:-0.83px">CF 6</div>
<div class="b" style="left:1480px;top:1066px;width:1px;height:21px;background:#8a8a8a;"></div>
<div class="tb " style="left:1494.3px;color:#444;letter-spacing:0.11px">matrix1</div>
<div class="b" style="left:1566px;top:1066px;width:1px;height:21px;background:#8a8a8a;"></div>
<div class="tb " style="left:1580.88px;color:#444;letter-spacing:0.25px">matrix2</div>
<div class="b" style="left:1653px;top:1066px;width:1px;height:21px;background:#8a8a8a;"></div>
<div class="tb " style="left:1667.37px;color:#444;letter-spacing:0.27px">validation</div>
<div class="b" style="left:1756px;top:1066px;width:1px;height:21px;background:#8a8a8a;"></div>
<svg class="b" style="left:1789px;top:1066px" width="22" height="22" viewBox="0 0 22 22"><circle cx="11" cy="11" r="9.5" fill="none" stroke="#6a6a6a" stroke-width="1"/><path d="M6 11h10M11 6v10" stroke="#6a6a6a" stroke-width="1.6" fill="none"/></svg>
<svg class="b" style="left:0;top:1066px" width="44" height="22" viewBox="0 0 44 22"><path d="M9 6L4 10.5L9 15Z M33 6L38 10.5L33 15Z" fill="#c3c3c3"/></svg>
</body></html>
